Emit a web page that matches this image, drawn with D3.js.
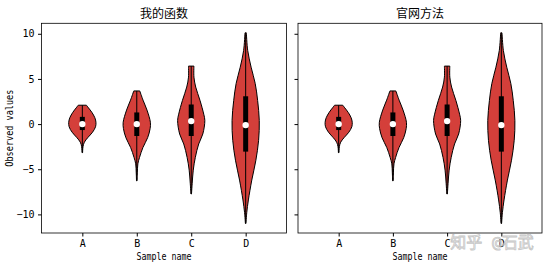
<!DOCTYPE html>
<html>
<head>
<meta charset="utf-8">
<script src="https://cdn.jsdelivr.net/npm/d3@7"></script>
<style>
  body { margin: 0; background: #fff; }
  svg text { font-family: "DejaVu Sans Mono", "Noto Sans CJK SC", monospace; }
</style>
</head>
<body>
<div class="chart"></div>
<script>
const panelTitles = ["我的函数", "官网方法"];
const sampleNames = ["A", "B", "C", "D"];
const yTicks = [-10, -5, 0, 5, 10];

// violin outlines: value along y, relative half width (1 = widest)
const profileValues = [
    [2.09, 1.8, 1.3, 0.7, 0.2, -0.3, -0.9, -1.5, -2.0, -2.5, -3.16],
    [3.67, 2.65, 1.55, 0.2, -0.5, -1.5, -2.6, -3.7, -4.4, -5.4, -6.28],
    [6.42, 5.2, 4.1, 2.6, 1.1, 0.4, -1.1, -2.2, -3.7, -5.1, -6.6, -7.74],
    [10.1, 8.15, 6.3, 4.5, 2.6, 0.4, -1.8, -4.0, -6.2, -8.4, -9.8, -11.0]
];
const profileWidths = [
    [0.30, 0.45, 0.70, 0.92, 1.0, 0.97, 0.75, 0.40, 0.15, 0.05, 0.02],
    [0.22, 0.46, 0.75, 1.0, 0.98, 0.80, 0.45, 0.20, 0.08, 0.04, 0.02],
    [0.20, 0.20, 0.33, 0.65, 0.92, 1.0, 0.85, 0.55, 0.30, 0.15, 0.07, 0.02],
    [0.05, 0.15, 0.40, 0.70, 0.88, 1.0, 0.95, 0.75, 0.45, 0.20, 0.08, 0.02]
];
const quartile1 = [-0.66, -1.32, -1.32, -3.05];
const medians = [0.0, 0.0, 0.33, -0.11];
const quartile3 = [0.8, 1.29, 2.17, 3.08];
const whiskerLow = [-3.16, -6.28, -7.74, -11.0];
const whiskerHigh = [2.09, 3.67, 6.42, 10.1];

const width = 550, height = 267;
const panels = [
    { left: 41.5, right: 286.5, showLabels: true },
    { left: 298, right: 542, showLabels: false }
];
const plotTop = 23.3, plotBottom = 233;

const svg = d3.select(".chart").append("svg")
    .attr("width", width)
    .attr("height", height);

const y = d3.scaleLinear().domain([-12.06, 11.16]).range([plotBottom, plotTop]);

panels.forEach((panel, p) => {
    const x = d3.scaleLinear()
        .domain([0.25, sampleNames.length + 0.75])
        .range([panel.left, panel.right]);
    const maxHalf = x(1.25) - x(1);

    const g = svg.append("g");

    // violins
    sampleNames.forEach((name, i) => {
        const pts = profileValues[i].map((v, k) => [v, profileWidths[i][k]]);
        const cx = x(i + 1);
        const area = d3.area()
            .y(d => y(d[0]))
            .x0(d => cx - d[1] * maxHalf)
            .x1(d => cx + d[1] * maxHalf)
            .curve(d3.curveCatmullRom);
        g.append("path")
            .datum(pts)
            .attr("d", area)
            .attr("fill", "#D43F3A")
            .attr("stroke", "#000")
            .attr("stroke-width", 1);
    });

    g.selectAll(".whisker")
        .data(sampleNames)
        .join("line")
        .attr("x1", (d, i) => x(i + 1))
        .attr("x2", (d, i) => x(i + 1))
        .attr("y1", (d, i) => y(whiskerLow[i]))
        .attr("y2", (d, i) => y(whiskerHigh[i]))
        .attr("stroke", "#000")
        .attr("stroke-width", 1);

    g.selectAll(".quartile")
        .data(sampleNames)
        .join("line")
        .attr("x1", (d, i) => x(i + 1))
        .attr("x2", (d, i) => x(i + 1))
        .attr("y1", (d, i) => y(quartile1[i]))
        .attr("y2", (d, i) => y(quartile3[i]))
        .attr("stroke", "#000")
        .attr("stroke-width", 5);

    g.selectAll(".median")
        .data(sampleNames)
        .join("circle")
        .attr("cx", (d, i) => x(i + 1))
        .attr("cy", (d, i) => y(medians[i]))
        .attr("r", 3.2)
        .attr("fill", "#fff");

    // axes
    const xAxis = d3.axisBottom(x)
        .tickValues(d3.range(1, sampleNames.length + 1))
        .tickFormat(d => sampleNames[d - 1])
        .tickSize(3.5)
        .tickPadding(3.5);
    const gx = svg.append("g")
        .attr("transform", `translate(0,${plotBottom})`)
        .call(xAxis);
    gx.select(".domain").remove();
    gx.selectAll("text").attr("font-size", 10).attr("fill", "#000")
        .attr("font-family", "DejaVu Sans Mono");

    const yAxis = d3.axisLeft(y)
        .tickValues(yTicks)
        .tickFormat(panel.showLabels ? (d => d < 0 ? "\u2212" + Math.abs(d) : d) : "")
        .tickSize(3.5)
        .tickPadding(3.5);
    const gy = svg.append("g")
        .attr("transform", `translate(${panel.left},0)`)
        .call(yAxis);
    gy.select(".domain").remove();
    gy.selectAll("text").attr("font-size", 10).attr("fill", "#000")
        .attr("font-family", "DejaVu Sans Mono");

    svg.append("rect")
        .attr("x", panel.left)
        .attr("y", plotTop)
        .attr("width", panel.right - panel.left)
        .attr("height", plotBottom - plotTop)
        .attr("fill", "none")
        .attr("stroke", "#000")
        .attr("stroke-width", 0.8);

    const mid = (panel.left + panel.right) / 2;
    svg.append("text")
        .attr("x", mid)
        .attr("y", 17.5)
        .attr("text-anchor", "middle")
        .attr("font-size", 12)
        .attr("font-family", "Noto Sans CJK SC")
        .text(panelTitles[p]);

    svg.append("text")
        .attr("x", mid)
        .attr("y", 259.5)
        .attr("text-anchor", "middle")
        .attr("font-size", 10)
        .attr("textLength", 55)
        .attr("lengthAdjust", "spacingAndGlyphs")
        .text("Sample name");

    if (panel.showLabels) {
        svg.append("text")
            .attr("transform", `translate(12.5,${(plotTop + plotBottom) / 2}) rotate(-90)`)
            .attr("text-anchor", "middle")
            .attr("font-size", 10)
            .attr("textLength", 77)
            .attr("lengthAdjust", "spacingAndGlyphs")
            .text("Observed values");
    }
});

// watermark
svg.append("text")
    .attr("x", 492)
    .attr("y", 248)
    .attr("text-anchor", "middle")
    .attr("font-size", 16)
    .attr("font-family", "Noto Sans CJK SC")
    .attr("fill", "#fff")
    .attr("fill-opacity", 0.6)
    .attr("stroke", "#aaa")
    .attr("stroke-width", 0.8)
    .attr("stroke-opacity", 0.7)
    .text("知乎 @石武");
</script>
</body>
</html>
